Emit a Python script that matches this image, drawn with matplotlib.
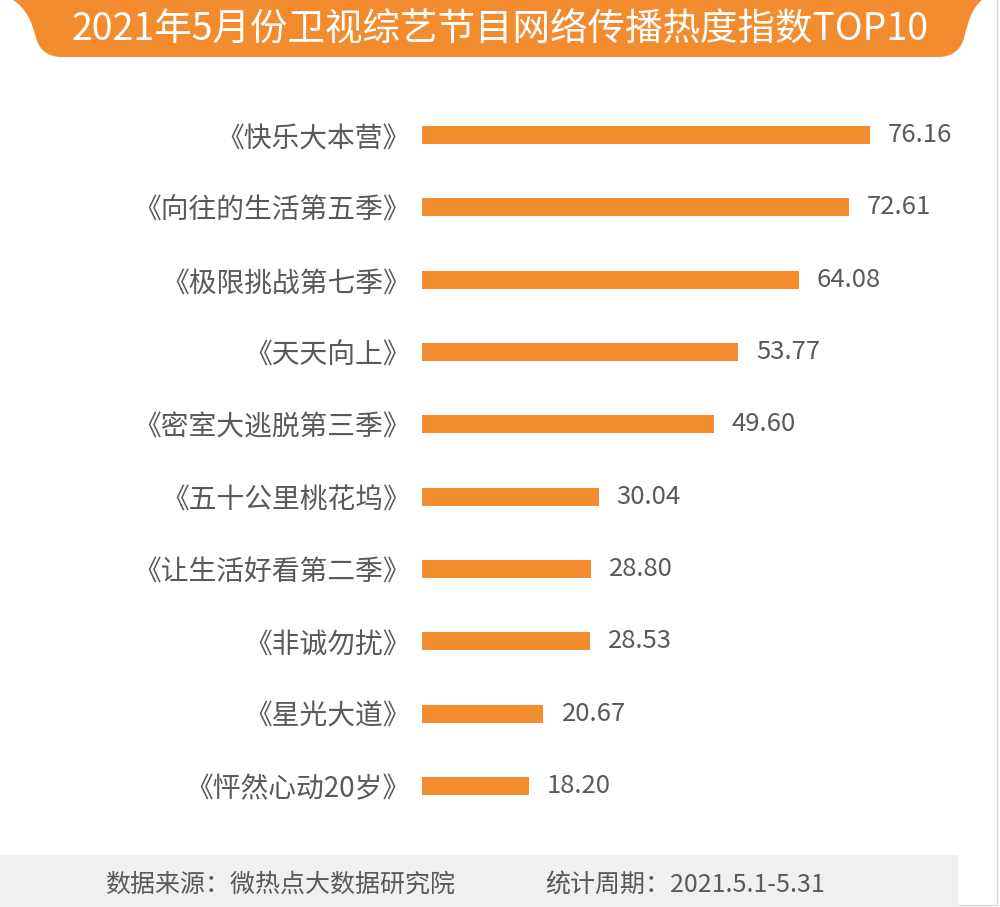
import matplotlib
matplotlib.use('Agg')
import matplotlib.pyplot as plt
from matplotlib.path import Path
from matplotlib.patches import PathPatch, Rectangle
from matplotlib.lines import Line2D

plt.rcParams['font.family'] = ['Noto Sans CJK SC', 'DejaVu Sans']

# data
shows = ['《快乐大本营》', '《向往的生活第五季》', '《极限挑战第七季》', '《天天向上》',
         '《密室大逃脱第三季》', '《五十公里桃花坞》', '《让生活好看第二季》',
         '《非诚勿扰》', '《星光大道》', '《怦然心动20岁》']
scores = [76.16, 72.61, 64.08, 53.77, 49.60, 30.04, 28.80, 28.53, 20.67, 18.20]

title = '2021年5月份卫视综艺节目网络传播热度指数TOP10'
source = '数据来源：微热点大数据研究院'
period = '统计周期：2021.5.1-5.31'

orange = '#F28C2F'
W, H = 1000, 907

fig = plt.figure(figsize=(W / 100, H / 100), dpi=100)
fig.patch.set_facecolor('white')


def fx(px):
    return px / W


def fy(py):
    # pixel y measured from the top
    return 1 - py / H


# title banner (flared top, rounded bottom corners)
verts = [
    (fx(13), fy(0)),
    (fx(26), fy(8)), (fx(32), fy(22)), (fx(36), fy(38)),
    (fx(40), fy(52)), (fx(50), fy(57)), (fx(62), fy(57)),
    (fx(938), fy(57)),
    (fx(950), fy(57)), (fx(960), fy(52)), (fx(964), fy(38)),
    (fx(968), fy(22)), (fx(972), fy(8)), (fx(982), fy(0)),
    (fx(13), fy(0)),
]
codes = [Path.MOVETO,
         Path.CURVE4, Path.CURVE4, Path.CURVE4,
         Path.CURVE4, Path.CURVE4, Path.CURVE4,
         Path.LINETO,
         Path.CURVE4, Path.CURVE4, Path.CURVE4,
         Path.CURVE4, Path.CURVE4, Path.CURVE4,
         Path.CLOSEPOLY]
fig.patches.append(PathPatch(Path(verts, codes), transform=fig.transFigure,
                             facecolor=orange, edgecolor='none'))
fig.text(0.5, fy(29), title, ha='center', va='center', color='white',
         fontsize=27, fontweight='medium')

# thin border on the right edge
fig.lines.append(Line2D([fx(997), fx(997)], [fy(0), fy(905)], transform=fig.transFigure,
                        color='#D9D9D9', linewidth=1))
fig.lines.append(Line2D([fx(958), fx(997)], [fy(905), fy(905)], transform=fig.transFigure,
                        color='#D9D9D9', linewidth=1))

# footer
fig.patches.append(Rectangle((0, 0), fx(958), 52 / H, transform=fig.transFigure,
                             facecolor='#F0F0F0', edgecolor='none'))
fig.text(fx(105), fy(885), source, ha='left', va='center', color='#595959', fontsize=18)
fig.text(fx(545), fy(885), period, ha='left', va='center', color='#595959', fontsize=18)

# bars
ax = fig.add_axes([fx(422), fy(822), 0.529, 723 / H])
y = list(range(len(shows)))
ax.barh(y, scores, height=0.25, color=orange)
ax.set_xlim(0, 90)
ax.set_ylim(len(shows) - 0.5, -0.5)
ax.set_yticks(y)
ax.set_yticklabels(shows, fontsize=20, color='#595959')
ax.tick_params(axis='y', length=0, pad=8)
ax.set_xticks([])
for s in ax.spines.values():
    s.set_visible(False)

for yi, v in zip(y, scores):
    ax.annotate(f'{v:.2f}', (v, yi), xytext=(13, 0), textcoords='offset points',
                ha='left', va='center', fontsize=18.5, color='#595959',
                annotation_clip=False)

fig.savefig('out.png', dpi=100)
